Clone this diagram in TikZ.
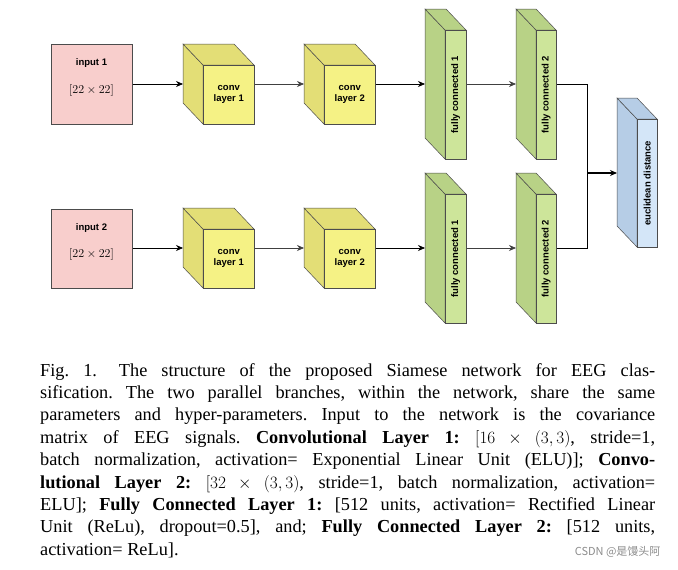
\documentclass[tikz,border=0pt]{standalone}
\usepackage{fontspec}
\setmainfont{Liberation Serif}
\setsansfont{Liberation Sans}
\newfontfamily\cjk{Noto Sans CJK SC}
\usetikzlibrary{arrows.meta}
\definecolor{inp}{HTML}{F8CECC}
\definecolor{cvf}{HTML}{F5F285}
\definecolor{cvs}{HTML}{E3DE76}
\definecolor{fcf}{HTML}{CDE59A}
\definecolor{fcs}{HTML}{B8D286}
\definecolor{euf}{HTML}{D4E6F8}
\definecolor{eus}{HTML}{B6CDE6}
\tikzset{
  lbl/.style={font=\sffamily\bfseries\fontsize{9.5}{11}\selectfont,align=center},
  arr/.style={-{Stealth[length=7pt,width=6pt]},line width=0.7pt},
  face/.style={draw=black!70,line width=0.5pt},
}
% \mycube{name}{x1}{y1}{x2}{y2}{front}{side}{dx}
\newcommand{\mycube}[8]{%
  \fill[#7,face] (#2,#3) -- (#2-#8,#3-21) -- (#2-#8,#5-21) -- (#2,#5) -- cycle;
  \fill[#7,face] (#2,#3) -- (#2-#8,#3-21) -- (#4-#8,#3-21) -- (#4,#3) -- cycle;
  \node[face,fill=#6,minimum width=#4-#2,minimum height=#5-#3,inner sep=0,anchor=north west] (#1) at (#2,#3) {};
}
\begin{document}
\begin{tikzpicture}[x=1pt,y=-1pt]
\useasboundingbox (0,0) rectangle (678,570);
% inputs
\node[face,fill=inp,minimum width=81,minimum height=80,inner sep=0,anchor=north west] (in1) at (51,44) {};
\node[lbl] at (91.5,63) {input 1};
\node[font=\fontsize{12}{13}\selectfont] at (91.5,90) {$[22\times22]$};
\node[face,fill=inp,minimum width=81,minimum height=79,inner sep=0,anchor=north west] (in2) at (51,209) {};
\node[lbl] at (91.5,228) {input 2};
\node[font=\fontsize{12}{13}\selectfont] at (91.5,254) {$[22\times22]$};
% conv
\mycube{c11}{203}{65}{254}{124}{cvf}{cvs}{20}
\mycube{c12}{324}{65}{375}{124}{cvf}{cvs}{20}
\mycube{c21}{203}{229}{254}{288}{cvf}{cvs}{20}
\mycube{c22}{324}{229}{375}{288}{cvf}{cvs}{20}
\node[lbl] at (c11) {conv\\layer 1};
\node[lbl] at (c12) {conv\\layer 2};
\node[lbl] at (c21) {conv\\layer 1};
\node[lbl] at (c22) {conv\\layer 2};
% fc
\mycube{f11}{445}{30}{466}{159}{fcf}{fcs}{20}
\mycube{f12}{536}{30}{556}{159}{fcf}{fcs}{20}
\mycube{f21}{445}{194}{466}{323}{fcf}{fcs}{20}
\mycube{f22}{536}{194}{556}{323}{fcf}{fcs}{20}
\node[lbl,rotate=90] at (f11) {fully connected 1};
\node[lbl,rotate=90] at (f12) {fully connected 2};
\node[lbl,rotate=90] at (f21) {fully connected 1};
\node[lbl,rotate=90] at (f22) {fully connected 2};
% euclid
\mycube{eu}{637}{119}{657}{247}{euf}{eus}{20}
\node[lbl,rotate=90] at (eu) {euclidean distance};
\coordinate (m) at (587,173);
% arrows
\draw[arr] (in1.east |- 0,84) -- (183,84);
\draw[arr,black!75] (c11.east |- 0,84) -- (304,84);
\draw[arr] (c12.east |- 0,84) -- (425,84);
\draw[arr,black!75] (f11.east |- 0,84) -- (516,84);
\draw[arr] (in2.east |- 0,248) -- (183,248);
\draw[arr,black!75] (c21.east |- 0,248) -- (304,248);
\draw[arr] (c22.east |- 0,248) -- (425,248);
\draw[arr,black!75] (f21.east |- 0,248) -- (516,248);
\draw[line width=0.7pt] (f12.east |- 0,84) -- (587,84) -- (587,248) -- (f22.east |- 0,248);
\draw[arr,line width=1.1pt] (m) -- (617,173);
% caption
\node[anchor=north west,inner sep=0,text width=615pt,align=justify,font=\frenchspacing\fontsize{18.3}{22.4}\selectfont] at (40,363) {%
Fig.~1.\hspace{1.2em}The structure of the proposed Siamese network for EEG clas-\linebreak
sification. The two parallel branches, within the network, share the same
parameters and hyper-parameters. Input to the network is the covariance
matrix of EEG signals. \textbf{Convolutional Layer 1:} $[16\times(3,3)$, stride=1,\linebreak
batch normalization, activation= Exponential Linear Unit (ELU)]; \textbf{Convo-\linebreak
lutional Layer 2:} $[32\times(3,3)$, stride=1, batch normalization, activation=\linebreak
ELU]; \textbf{Fully Connected Layer 1:} [512 units, activation= Rectified Linear\linebreak
Unit (ReLu), dropout=0.5], and; \textbf{Fully Connected Layer 2:} [512 units,\linebreak
activation= ReLu].};
\node[anchor=east,text=black!45,font=\cjk\fontsize{11}{12}\selectfont] (wm) at (664,552) {CSDN @是馒头阿};
\end{tikzpicture}
\end{document}
